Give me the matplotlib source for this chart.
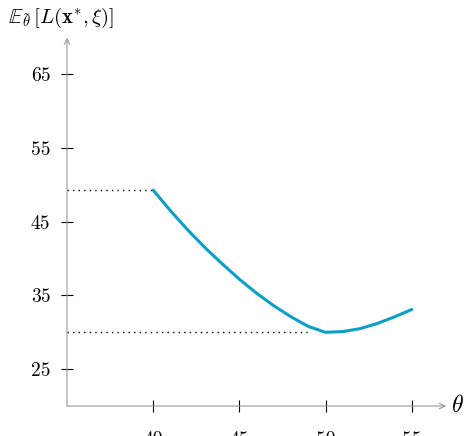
import matplotlib
matplotlib.use('Agg')
import matplotlib.pyplot as plt

plt.rcParams['mathtext.fontset'] = 'cm'
plt.rcParams['font.family'] = 'serif'
plt.rcParams['font.serif'] = ['cmr10', 'DejaVu Serif']
plt.rcParams['axes.unicode_minus'] = False

# curve
theta = [40, 41, 42, 43, 44, 45, 46, 47, 48, 49, 50, 51, 52, 53, 54, 55]
loss = [49.3, 46.5, 43.9, 41.5, 39.3, 37.2, 35.3, 33.6, 32.1, 30.8, 30.0, 30.1, 30.5, 31.2, 32.1, 33.1]
x_ticks = [40, 45, 50, 55]
y_ticks = [25, 35, 45, 55, 65]
upper_level = 49.3
lower_level = 30.0
lower_end = 49

fig = plt.figure(figsize=(4.74, 4.36), dpi=100)
ax = fig.add_axes([0.1414, 0.0688, 0.80, 0.845])
ax.set_xlim(35, 57)
ax.set_ylim(20, 70)
for s in ax.spines.values():
    s.set_visible(False)

gray = '#999999'
ax.annotate('', xy=(57, 20), xytext=(35, 20),
            arrowprops=dict(arrowstyle='->', color=gray, lw=0.8, shrinkA=0, shrinkB=0),
            annotation_clip=False)
ax.annotate('', xy=(35, 70), xytext=(35, 20),
            arrowprops=dict(arrowstyle='->', color=gray, lw=0.8, shrinkA=0, shrinkB=0),
            annotation_clip=False)

ax.plot([35, 40], [upper_level, upper_level], color='black', ls=(0, (1, 3)), lw=1)
ax.plot([35, lower_end], [lower_level, lower_level], color='black', ls=(0, (1, 3)), lw=1)
ax.plot(theta, loss, color='#0aa0c8', lw=2.2, solid_capstyle='round')

ax.set_xticks(x_ticks)
ax.set_yticks(y_ticks)
ax.tick_params(direction='inout', length=8, width=0.8, labelsize=14)
ax.tick_params(axis='x', pad=14)
ax.tick_params(axis='y', pad=8)

ax.text(57.3, 20, r'$\theta$', fontsize=17, va='center', ha='left')
ax.text(35 - 3.4, 71, r'$\mathbb{E}_{\tilde{\theta}}\,[L(\mathbf{x}^{*},\xi)]$',
        fontsize=15, va='bottom', ha='left')

fig.savefig('out.png', dpi=100)
